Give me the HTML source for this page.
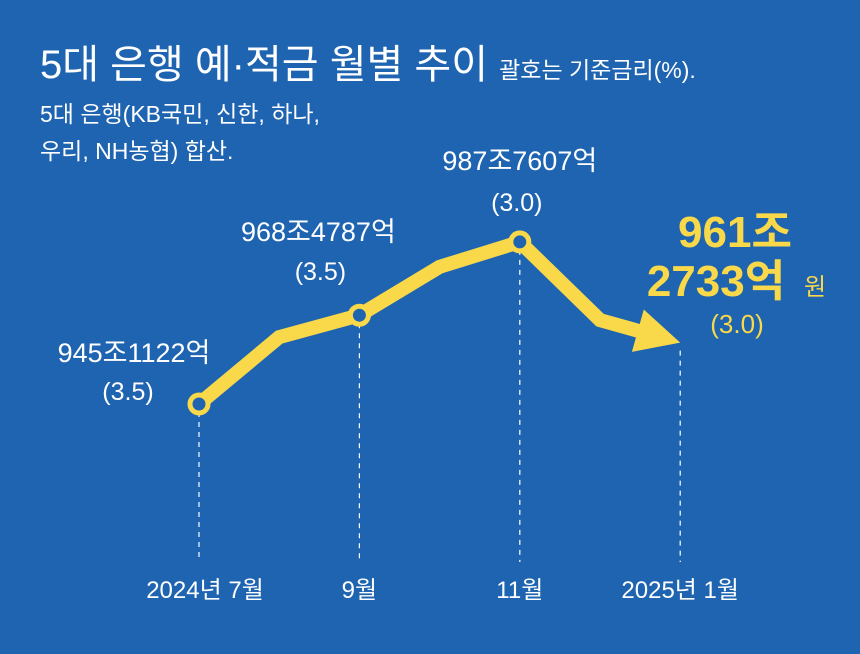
<!DOCTYPE html>
<html><head><meta charset="utf-8"><style>
html,body{margin:0;padding:0}
body{width:860px;height:649px;background:#1f64b0;overflow:hidden;font-family:"Liberation Sans","Noto Sans CJK KR",sans-serif}
svg text{font-family:"Liberation Sans","Noto Sans CJK KR",sans-serif}
</style></head><body>
<svg width="860" height="649" viewBox="0 0 860 649">
<rect width="860" height="649" fill="#1f64b0"/>
<text x="40" y="78" font-size="40" fill="#fff">5대 은행 예·적금 월별 추이 <tspan font-size="23">괄호는 기준금리(%).</tspan></text>
<text x="40" y="122" font-size="23" fill="#fff">5대 은행(KB국민, 신한, 하나,</text>
<text x="40" y="159" font-size="23" fill="#fff">우리, NH농협) 합산.</text>
<g id="plot"></g>
</svg>
<script>
const months = [0,1,2,3,4,5,6];
const values = [945.11, 962.7, 968.48, 981.2, 987.76, 967.2, 961.27];
const markedIdx = [0,2,4];
const xLabels = ["2024년 7월","","9월","","11월","","2025년 1월"];
const valueLabels = ["945조1122억","","968조4787억","","987조7607억","","961조 2733억"];
const rateLabels = ["(3.5)","","(3.5)","","(3.0)","","(3.0)"];
const xs = i => 199 + i*80.2;
const ys = v => 404 - (v-945.11)*3.8;
const NS="http://www.w3.org/2000/svg";
const g=document.getElementById('plot');
function mk(t,a){const e=document.createElementNS(NS,t);for(const k in a)e.setAttribute(k,a[k]);g.appendChild(e);return e;}
[0,2,4,6].forEach(i=>{
 const l=mk('line',{x1:xs(i),x2:xs(i),y1:ys(values[i])+8,y2:562,stroke:'#fff','stroke-width':1.2,'stroke-dasharray':'5,5'});
 
 
});
const n=values.length;
const tipX=xs(n-1), tipY=ys(values[n-1]);
const pX=xs(n-2), pY=ys(values[n-2]);
const dx=tipX-pX, dy=tipY-pY, len=Math.hypot(dx,dy), ux=dx/len, uy=dy/len;
const endX=tipX-ux*38, endY=tipY-uy*38;
let d='';
for(let i=0;i<n-1;i++) d+=(i?'L':'M')+xs(i)+','+ys(values[i]);
d+='L'+endX+','+endY;
const p=mk('path',{d:d,fill:'none',stroke:'#f9d84a','stroke-width':14,'stroke-linejoin':'miter'});


const bx=tipX-ux*44, by=tipY-uy*44, nx=-uy, ny=ux;
const a=mk('polygon',{points:`${tipX},${tipY} ${bx+nx*22},${by+ny*22} ${bx-nx*22},${by-ny*22}`,fill:'#f9d84a'});


markedIdx.forEach(i=>{
 const c=mk('circle',{cx:xs(i),cy:ys(values[i]),r:9,fill:'#1f64b0',stroke:'#f9d84a','stroke-width':5});
 
 
});
function txt(x,y,s,size,fill,anchor,weight){const t=mk('text',{x:x,y:y,'font-size':size,fill:fill,'text-anchor':anchor||'middle','font-weight':weight||'normal'});t.textContent=s;return t;}
const xOff={0:6,2:0,4:0,6:0};
xLabels.forEach((s,i)=>{ if(!s)return; const t=txt(xs(i)+xOff[i],598,s,24,'#fff');
 
 });
const lp={0:[-65,-42,-71,-4],2:[-41,-74,-39,-35],4:[0,-72,-3,-31]};
[0,2,4].forEach(i=>{
 const [ox,oy,rx,ry]=lp[i]; const x=xs(i), y=ys(values[i]);
 const t1=txt(x+ox,y+oy,valueLabels[i],27,'#fff');
 
 
 const t2=txt(x+rx,y+ry,rateLabels[i],25,'#fff');
 
 
});
const parts=valueLabels[6].split(' ');
const f1=txt(735,247,parts[0],44,'#f9d84a','middle','bold');


const f2=txt(716,296,parts[1],44,'#f9d84a','middle','bold');


const f3=txt(815,295,'원',24,'#f9d84a','middle');


const f4=txt(737,333,rateLabels[6],26,'#f9d84a');


</script>
</body></html>
